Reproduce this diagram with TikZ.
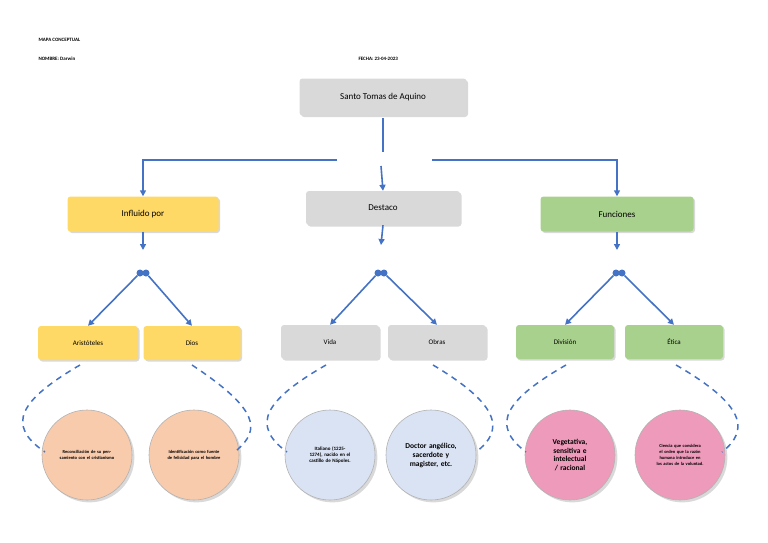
\documentclass[tikz,border=0pt]{standalone}
\usepackage{fontspec}
\setmainfont{Carlito}
\usetikzlibrary{shadows,arrows.meta}
\definecolor{bl}{HTML}{4472C4}
\definecolor{yel}{HTML}{FFD966}
\definecolor{gr}{HTML}{D9D9D9}
\definecolor{grn}{HTML}{A9D18E}
\definecolor{peach}{HTML}{F8CBAD}
\definecolor{lblue}{HTML}{DAE3F3}
\definecolor{pink}{HTML}{EE9ABA}
\begin{document}
\begin{tikzpicture}[x=1pt,y=-1pt,
 box/.style={draw=none,rounded corners=3pt,minimum height=35pt,drop shadow={opacity=0.3,shadow xshift=1.5pt,shadow yshift=-1.5pt},font=\small},
 cbox/.style={box,minimum width=98pt,minimum height=34pt,font=\scriptsize},
 circ/.style={circle,minimum size=90pt,draw=gray!60,line width=0.6pt,drop shadow={opacity=0.3},align=center,text width=58pt,font=\fontsize{5}{6}\selectfont\bfseries},
 con/.style={bl,line width=2pt},
 arr/.style={bl,line width=1.6pt,-{Triangle[length=6pt,width=6pt]}},
 dsh/.style={bl,line width=1.5pt,dash pattern=on 6pt off 5pt},
 dot/.style={circle,fill=bl,inner sep=0pt,minimum size=7pt}]
\useasboundingbox (0,0) rectangle (768,543);
\node[font=\tiny\bfseries,anchor=west] (h1) at (35,40) {MAPA CONCEPTUAL};
\node[font=\tiny\bfseries,anchor=west] (h2) at (35,59) {NOMBRE: Darwin};
\node[font=\tiny\bfseries,anchor=west] (h3) at (355,59) {FECHA: 23-04-2023};
\node[box,fill=gr,minimum width=167pt,minimum height=37pt] (st) at (383,97) {Santo Tomas de Aquino};
\node[box,fill=yel,minimum width=151pt] (inf) at (143,214) {Influido por};
\node[box,fill=gr,minimum width=154pt,minimum height=34pt] (des) at (383,208) {Destaco};
\node[box,fill=grn,minimum width=153pt] (fun) at (617,214) {Funciones};
\coordinate (t0) at (383,152);
\draw[con] (383,118) -- (t0);
\draw[con] (337,160) -- (143,160);
\draw[arr] (143,159) -- (inf.north);
\draw[con] (432,160) -- (617,160);
\draw[arr] (617,159) -- (fun.north);
\draw[arr] (381,166) -- (des.north);
\foreach \n/\x in {a/143,b/381,c/619}{
 \node[dot] (\n1) at (\x-3,273) {};
 \node[dot] (\n2) at (\x+3,273) {};
}
\draw[arr] (inf.south) -- (143,250);
\draw[arr] (des.south) -- (381,245);
\draw[arr] (fun.south) -- (617,250);
\node[cbox,fill=yel,minimum width=100pt] (ari) at (88,343) {Aristóteles};
\node[cbox,fill=yel,minimum width=97pt] (dio) at (192,343) {Dios};
\node[cbox,fill=gr] (vid) at (330,342) {Vida};
\node[cbox,fill=gr] (obr) at (437,342) {Obras};
\node[cbox,fill=grn] (div) at (565,342) {División};
\node[cbox,fill=grn] (eti) at (674,342) {Ética};
\draw[arr] (a1) -- (ari.north);
\draw[arr] (a2) -- (dio.north);
\draw[arr] (b1) -- (vid.north);
\draw[arr] (b2) -- (obr.north);
\draw[arr] (c1) -- (div.north);
\draw[arr] (c2) -- (eti.north);
\node[circ,fill=peach,font=\fontsize{4.5}{6}\selectfont\bfseries] (c1a) at (87,455) {Reconciliación de su pensamiento con el cristianismo};
\node[circ,fill=peach,font=\fontsize{4.5}{6}\selectfont\bfseries] (c2a) at (194,455) {Identificación como fuente de felicidad para el hombre};
\node[circ,fill=lblue,font=\fontsize{5}{6}\selectfont\bfseries] (c3a) at (330,455) {Italiano (1225-1274), nacido en el castillo de Nápoles.};
\node[circ,fill=lblue,font=\fontsize{7.5}{9}\selectfont\bfseries] (c4a) at (431,455) {Doctor angélico, sacerdote y magister, etc.};
\node[circ,fill=pink,font=\fontsize{7.5}{8.5}\selectfont\bfseries] (c5a) at (570,455) {Vegetativa, sensitiva e intelectual / racional};
\node[circ,fill=pink,font=\fontsize{4.5}{6}\selectfont\bfseries] (c6a) at (680,455) {Ciencia que considera el orden que la razón humana introduce en los actos de la voluntad.};
\draw[dsh] (80,365) .. controls (20,400) and (5,425) .. (45,452);
\draw[dsh] (192,365) .. controls (260,410) and (260,430) .. (237,450);
\draw[dsh] (326,365) .. controls (265,400) and (250,425) .. (287,452);
\draw[dsh] (433,365) .. controls (500,405) and (505,430) .. (476,452);
\draw[dsh] (566,365) .. controls (505,400) and (490,425) .. (526,452);
\draw[dsh] (676,365) .. controls (745,405) and (750,430) .. (722,452);
\end{tikzpicture}
\end{document}
